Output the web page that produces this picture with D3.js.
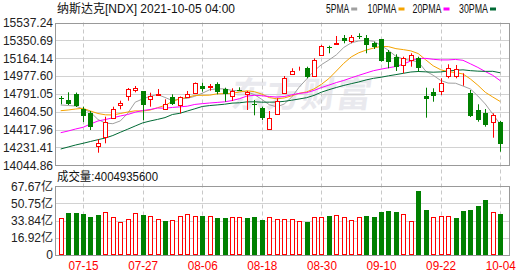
<!DOCTYPE html>
<html>
<head>
<meta charset="utf-8">
<script src="https://cdn.jsdelivr.net/npm/d3@7"></script>
<style>
  body { margin: 0; background: #fff; }
  text { font-family: "Liberation Sans", "Noto Sans CJK SC", sans-serif; }
</style>
</head>
<body>
<script>
// trading days 2021-07-12 .. 2021-10-04
var dates = ["07-12","07-13","07-14","07-15","07-16","07-19","07-20","07-21","07-22","07-23",
  "07-26","07-27","07-28","07-29","07-30","08-02","08-03","08-04","08-05","08-06",
  "08-09","08-10","08-11","08-12","08-13","08-16","08-17","08-18","08-19","08-20",
  "08-23","08-24","08-25","08-26","08-27","08-30","08-31","09-01","09-02","09-03",
  "09-07","09-08","09-09","09-10","09-13","09-14","09-15","09-16","09-17","09-20",
  "09-21","09-22","09-23","09-24","09-27","09-28","09-29","09-30","10-01","10-04"];

var open = [14743.0,14727.3,14793.1,14630.1,14588.3,14239.2,14343.7,14542.3,14675.0,14761.8,
  14831.8,14818.2,14740.9,14779.6,14636.4,14761.8,14682.4,14761.8,14803.6,14873.6,
  14861.1,14891.4,14839.1,14772.2,14837.0,14786.9,14682.4,14640.6,14431.5,14588.3,
  14797.3,14995.9,15051.3,15058.6,14981.3,15190.3,15278.1,15319.9,15378.4,15340.8,
  15392.0,15378.4,15319.9,15361.7,15232.1,15179.8,15100.4,15145.3,15169.4,14769.1,
  14807.8,14814.0,14970.8,14981.3,14967.7,14797.3,14622.8,14588.3,14500.5,14494.2];
var high = [14769.1,14807.8,14805.0,14657.3,14612.3,14316.6,14552.8,14657.3,14720.0,14852.7,
  14873.6,14821.3,14803.6,14842.3,14734.6,14786.9,14763.9,14821.4,14910.2,14908.1,
  14894.5,14912.3,14855.8,14849.6,14860.0,14821.4,14727.3,14657.3,14612.3,14745.1,
  14978.1,15058.6,15075.3,15075.3,15163.1,15302.1,15294.8,15396.2,15406.6,15406.6,
  15424.4,15406.6,15336.6,15364.8,15249.8,15204.9,15179.8,15215.4,15179.8,14855.8,
  14849.6,14954.1,15100.4,15093.1,15006.3,14831.8,14682.4,14633.2,14588.3,14507.8];
var low = [14682.4,14675.0,14654.1,14497.4,14413.8,14176.5,14274.8,14534.0,14630.1,14720.0,
  14807.8,14515.1,14657.3,14774.3,14630.1,14675.0,14588.3,14751.3,14800.5,14814.0,
  14824.5,14786.9,14709.5,14716.8,14821.4,14622.8,14567.4,14518.3,14426.3,14586.2,
  14795.2,14988.6,15033.5,14954.1,14978.1,15187.1,15215.4,15317.8,15319.9,15319.9,
  15364.8,15215.4,15260.3,15127.6,15058.6,15030.4,15006.3,15075.3,15023.1,14542.3,
  14709.5,14779.6,14954.1,14954.1,14876.7,14549.6,14500.5,14448.3,14333.3,14187.0];
var close = [14732.5,14688.6,14664.6,14552.8,14437.8,14274.8,14497.4,14636.4,14695.9,14839.1,
  14852.7,14667.7,14769.1,14795.2,14685.5,14687.6,14761.8,14790.0,14905.0,14845.4,
  14870.5,14810.9,14786.9,14821.4,14831.8,14807.8,14671.9,14536.0,14542.3,14720.0,
  14954.1,15030.4,15056.5,14964.5,15145.3,15288.5,15270.8,15326.1,15351.2,15385.7,
  15386.8,15309.4,15273.9,15134.9,15124.4,15075.3,15169.4,15197.6,15064.9,14734.6,
  14761.8,14901.8,15058.6,15055.4,14972.9,14552.8,14518.3,14458.7,14570.5,14264.3];
var closeBefore = 14720.0; // close of 07-09

// volume in 亿
var volume = [36.1,41.7,41.7,40.4,37.4,39.4,42.1,37.1,32.5,35.2,
  41.1,39.4,38.1,35.2,33.5,34.2,38.1,40.1,38.1,38.4,
  38.1,36.4,36.4,37.1,37.1,36.4,37.1,34.5,37.1,35.2,
  35.2,35.2,33.2,32.5,37.1,37.1,38.4,39.1,37.1,34.2,
  37.1,38.1,37.1,42.4,43.3,42.4,40.1,33.2,63.0,44.3,
  37.1,38.1,38.1,36.1,43.3,44.3,48.3,54.2,42.1,40.05];
var lastVolume = "4004935600";

var ma5 = [14675.0,14669.8,14664.6,14633.2,14600.0,14523.7,14485.5,14479.8,14508.5,14588.7,
  14704.3,14738.4,14764.9,14784.8,14754.0,14721.0,14739.8,14744.0,14766.0,14798.0,
  14834.5,14844.4,14843.7,14827.0,14824.3,14811.8,14784.0,14733.8,14678.0,14655.6,
  14684.9,14756.6,14860.7,14945.1,15030.2,15097.0,15145.1,15199.0,15276.4,15324.5,
  15344.1,15351.8,15341.4,15298.1,15245.9,15183.6,15155.6,15140.3,15126.3,15030.0,
  14985.7,14932.1,14904.3,14902.4,14873.6,14842.3,14769.1,14685.5,14580.9,14472.9];
var ma10 = [14615.5,14622.8,14633.2,14640.6,14612.3,14586.2,14572.6,14570.5,14586.2,14602.0,
  14614.0,14612.0,14622.4,14646.7,14671.4,14712.7,14739.1,14754.5,14775.4,14776.0,
  14777.8,14792.1,14793.9,14796.5,14811.2,14823.2,14814.2,14788.8,14752.5,14740.0,
  14748.4,14770.3,14797.3,14811.6,14842.9,14891.0,14950.9,15029.9,15110.8,15177.4,
  15220.6,15248.5,15270.2,15287.3,15285.2,15263.9,15253.7,15240.9,15212.2,15147.2,
  15084.7,15043.9,15022.3,15014.4,14999.3,14947.0,14881.9,14808.0,14758.5,14711.5];
var ma20 = [14385.6,14403.3,14424.2,14441.9,14476.5,14507.8,14523.5,14541.3,14560.1,14575.8,
  14600.0,14617.4,14627.8,14643.7,14641.9,14649.5,14655.9,14662.5,14680.8,14689.0,
  14695.9,14702.1,14708.2,14721.6,14741.3,14768.0,14776.7,14771.7,14764.0,14758.0,
  14763.1,14781.2,14795.6,14804.1,14827.1,14857.1,14882.6,14909.4,14931.7,14958.7,
  14984.5,15009.4,15033.8,15049.5,15064.1,15077.5,15102.3,15135.4,15161.5,15162.3,
  15152.7,15146.2,15146.3,15150.9,15142.3,15105.5,15067.8,15024.5,14985.4,14929.4];
var ma30 = [14215.2,14236.1,14257.0,14274.8,14293.6,14312.4,14330.2,14356.3,14389.8,14422.1,
  14455.6,14488.0,14507.8,14524.6,14543.4,14575.8,14588.3,14612.3,14635.3,14659.4,
  14669.1,14675.7,14683.2,14694.6,14698.3,14707.4,14708.7,14704.6,14704.7,14706.0,
  14713.4,14724.8,14737.9,14751.6,14775.2,14809.0,14834.8,14857.8,14879.6,14897.8,
  14915.6,14937.0,14953.8,14965.2,14979.8,14992.7,15006.3,15019.9,15025.2,15021.5,
  15017.9,15020.9,15030.0,15037.8,15042.5,15034.0,15028.8,15026.3,15027.2,15012.1];

var priceTicks = [15537.24,15350.69,15164.14,14977.60,14791.05,14604.50,14417.96,14231.41,14044.86];
var volTicks = [67.67,50.75,33.84,16.92,0];
var xTicks = ["07-15","07-27","08-06","08-18","08-30","09-10","09-22","10-04"];
var maNames = ["5PMA","10PMA","20PMA","30PMA"];
var maColors = ["#a0a0a0","#f5a300","#ff00ff","#006a35"];

var w = 530, h = 276;
var left = 55, right = 509;
var pTop = 22.5, pBot = 165.3, vTop = 186.3, vBot = 255;
var red = "#ff0000", green = "#008000";

var svg = d3.select("body").append("svg").attr("width", w).attr("height", h);

var x = d3.scaleLinear().domain([0, dates.length - 1]).range([60.7, 500.2]);
var y = d3.scaleLinear().domain([priceTicks[priceTicks.length - 1], priceTicks[0]]).range([pBot, pTop]);
var yv = d3.scaleLinear().domain([0, volTicks[0]]).range([vBot, vTop]);

function crisp(v) { return Math.round(v) + 0.5; }

// watermark
svg.append("text")
   .attr("x", 231).attr("y", 107)
   .attr("font-size", 35).attr("font-weight", "bold")
   .attr("font-family", "Noto Sans CJK SC")
   .attr("fill", "#e9e9ee")
   .attr("transform", "skewX(-8)")
   .attr("dx", 14)
   .text("东方财富");

// horizontal grid
svg.selectAll("line.pg").data(priceTicks.slice(1, -1)).enter().append("line")
   .attr("x1", left).attr("x2", right)
   .attr("y1", function(d) { return crisp(y(d)); })
   .attr("y2", function(d) { return crisp(y(d)); })
   .attr("stroke", "#d2d2d2");
svg.selectAll("line.vg").data(volTicks.slice(1, -1)).enter().append("line")
   .attr("x1", left).attr("x2", right)
   .attr("y1", function(d) { return crisp(yv(d)); })
   .attr("y2", function(d) { return crisp(yv(d)); })
   .attr("stroke", "#d2d2d2");

// vertical dashed grid
svg.selectAll("line.xg").data(xTicks).enter().append("line")
   .attr("x1", function(d) { return crisp(x(dates.indexOf(d))); })
   .attr("x2", function(d) { return crisp(x(dates.indexOf(d))); })
   .attr("y1", pTop).attr("y2", vBot)
   .attr("stroke", "#c8c8c8")
   .attr("stroke-dasharray", "4,3");

// frames
svg.append("rect").attr("x", left + 0.5).attr("y", crisp(pTop)).attr("width", right - left)
   .attr("height", Math.round(pBot) - Math.round(pTop)).attr("fill", "none").attr("stroke", "#999");
svg.append("rect").attr("x", left + 0.5).attr("y", crisp(vTop)).attr("width", right - left)
   .attr("height", Math.round(vBot) - Math.round(vTop)).attr("fill", "none").attr("stroke", "#999");

// moving averages
var line = d3.line().x(function(d, i) { return x(i); }).y(function(d) { return y(d); });
[ma5, ma10, ma20, ma30].forEach(function(s, k) {
  svg.append("path").datum(s).attr("d", line)
     .attr("fill", "none").attr("stroke", maColors[k]).attr("stroke-width", 1);
});

// candles
var idx = d3.range(dates.length);
var candle = svg.selectAll("g.c").data(idx).enter().append("g");
candle.append("line")
   .attr("x1", function(i) { return crisp(x(i)); })
   .attr("x2", function(i) { return crisp(x(i)); })
   .attr("y1", function(i) { return y(high[i]); })
   .attr("y2", function(i) { return y(low[i]); })
   .attr("stroke", function(i) { return close[i] >= open[i] ? red : green; });
candle.append("rect")
   .attr("x", function(i) { var cx = Math.round(x(i)); return close[i] >= open[i] ? cx - 1.5 : cx - 2; })
   .attr("width", function(i) { return close[i] >= open[i] ? 4 : 5; })
   .attr("y", function(i) {
     var t = y(Math.max(open[i], close[i]));
     return close[i] >= open[i] ? crisp(t) : Math.round(t);
   })
   .attr("height", function(i) {
     var hgt = Math.round(y(Math.min(open[i], close[i])) - y(Math.max(open[i], close[i])));
     return Math.max(close[i] >= open[i] ? 0 : 1, hgt);
   })
   .attr("fill", function(i) { return close[i] >= open[i] ? "#fff" : green; })
   .attr("stroke", function(i) { return close[i] >= open[i] ? red : "none"; });

// volume bars: colour from change against previous close
function volUp(i) { return close[i] >= (i === 0 ? closeBefore : close[i - 1]); }
svg.selectAll("rect.v").data(idx).enter().append("rect")
   .attr("x", function(i) { var cx = Math.round(x(i)); return volUp(i) ? cx - 1.5 : cx - 2; })
   .attr("width", function(i) { return volUp(i) ? 4 : 5; })
   .attr("y", function(i) { return volUp(i) ? crisp(yv(volume[i])) : Math.round(yv(volume[i])); })
   .attr("height", function(i) {
     return Math.round(vBot) - Math.round(yv(volume[i])) - (volUp(i) ? 1 : 0);
   })
   .attr("fill", function(i) { return volUp(i) ? "#fff" : green; })
   .attr("stroke", function(i) { return volUp(i) ? red : "none"; });

// axes
var ya = svg.append("g").attr("transform", "translate(" + left + ",0)")
   .call(d3.axisLeft(y).tickValues(priceTicks).tickSize(0).tickPadding(2)
         .tickFormat(function(d) { return d.toFixed(2); }));
var va = svg.append("g").attr("transform", "translate(" + left + ",0)")
   .call(d3.axisLeft(yv).tickValues(volTicks).tickSize(0).tickPadding(2)
         .tickFormat(function(d) { return d === 0 ? "0" : d.toFixed(2) + "亿"; }));
var xa = svg.append("g").attr("transform", "translate(0," + vBot + ")")
   .call(d3.axisBottom(x).tickValues(xTicks.map(function(t) { return dates.indexOf(t); }))
         .tickSize(0).tickPadding(6).tickFormat(function(i) { return dates[i]; }));
[ya, va, xa].forEach(function(g) {
  g.select(".domain").remove();
  g.attr("font-family", null);
  g.selectAll("text").attr("font-size", 12).attr("fill", "#222");
});
xa.selectAll("text").attr("fill", red).attr("font-family", "Liberation Mono")
  .attr("textLength", 30).attr("lengthAdjust", "spacingAndGlyphs");

// title
svg.append("text").attr("x", 57).attr("y", 12.5)
   .attr("font-size", 12).attr("font-family", "Liberation Mono, Noto Sans CJK SC")
   .attr("textLength", 178).attr("lengthAdjust", "spacingAndGlyphs").attr("fill", "#111")
   .text("纳斯达克[NDX] 2021-10-05 04:00");

// legend
var legX = [326, 367.5, 412.5, 459];
maNames.forEach(function(n, k) {
  svg.append("text").attr("x", legX[k]).attr("y", 12.5)
     .attr("font-size", 12).attr("font-family", "Liberation Mono")
     .attr("textLength", n.length * 5.8).attr("lengthAdjust", "spacingAndGlyphs").attr("fill", "#111")
     .text(n);
  svg.append("rect").attr("x", legX[k] + n.length * 5.8 + 2).attr("y", 7.5)
     .attr("width", 6).attr("height", 3).attr("fill", maColors[k]);
});

// volume caption
svg.append("text").attr("x", 57).attr("y", 181)
   .attr("font-size", 12).attr("fill", "#111")
   .attr("textLength", 101).attr("lengthAdjust", "spacingAndGlyphs")
   .text("成交量:" + lastVolume);
</script>
</body>
</html>
